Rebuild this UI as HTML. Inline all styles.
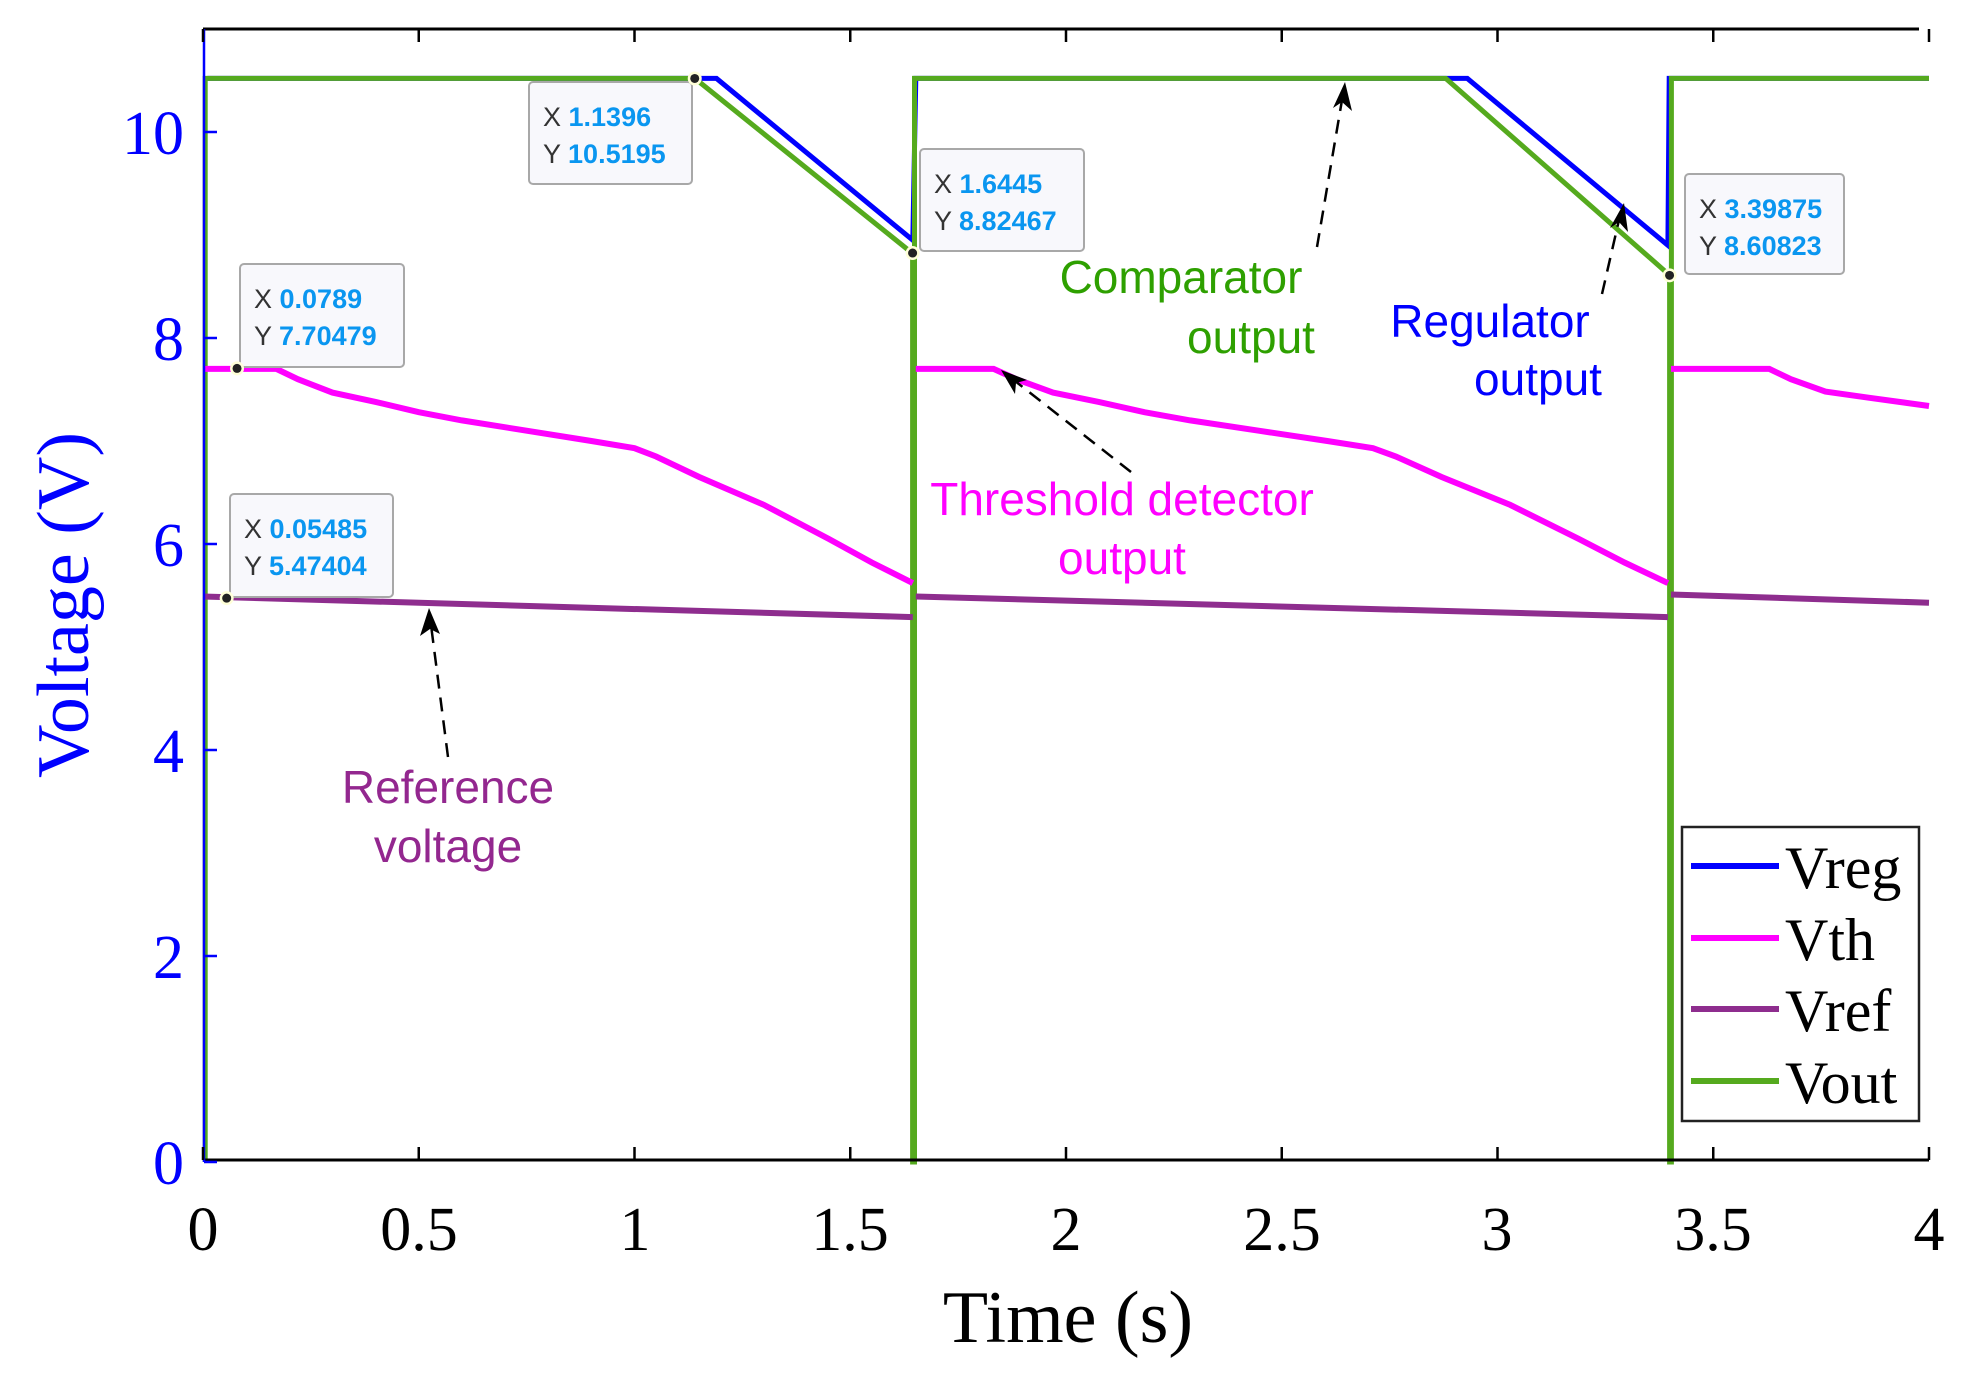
<!DOCTYPE html>
<html><head><meta charset="utf-8"><style>
html,body{margin:0;padding:0;background:#fff;}
svg{display:block;}
.tip{font-family:"Liberation Sans",Arial,sans-serif;font-size:27px;font-weight:bold;}
</style></head><body>
<svg id="s" width="1976" height="1382" viewBox="0 0 1976 1382" xmlns="http://www.w3.org/2000/svg">
<rect width="1976" height="1382" fill="#fff"/>
<g id="curves"></g>
<line x1="203" y1="29" x2="1919" y2="29" stroke="#000" stroke-width="3"/>
<line x1="203" y1="1160" x2="1929" y2="1160" stroke="#000" stroke-width="3"/>
<line x1="204" y1="29" x2="204" y2="1162" stroke="#0000ff" stroke-width="2.5"/>
<g id="ticks"></g>
<g font-family="Liberation Serif,serif" font-size="62" fill="#0000ff" text-anchor="end">
<text x="184" y="1184">0</text><text x="184" y="978">2</text><text x="184" y="772">4</text>
<text x="184" y="566">6</text><text x="184" y="360">8</text><text x="184" y="154">10</text>
</g>
<g font-family="Liberation Serif,serif" font-size="62" fill="#000" text-anchor="middle">
<text x="203" y="1250">0</text><text x="419" y="1250">0.5</text><text x="635" y="1250">1</text>
<text x="850" y="1250">1.5</text><text x="1066" y="1250">2</text><text x="1282" y="1250">2.5</text>
<text x="1497" y="1250">3</text><text x="1713" y="1250">3.5</text><text x="1929" y="1250">4</text>
</g>
<text x="1068" y="1342" font-family="Liberation Serif,serif" font-size="74" text-anchor="middle">Time (s)</text>
<text transform="translate(88,605) rotate(-90)" font-family="Liberation Serif,serif" font-size="74" fill="#0000ff" text-anchor="middle">Voltage (V)</text>
<rect x="1682" y="827" width="237" height="294" fill="#fff" stroke="#222" stroke-width="2.5"/>
<line x1="1691" y1="866" x2="1779" y2="866" stroke="#0000ff" stroke-width="6"/>
<line x1="1691" y1="938" x2="1779" y2="938" stroke="#ff00ff" stroke-width="6"/>
<line x1="1691" y1="1009" x2="1779" y2="1009" stroke="#8e2d8e" stroke-width="6"/>
<line x1="1691" y1="1081" x2="1779" y2="1081" stroke="#55aa1e" stroke-width="6"/>
<g font-family="Liberation Serif,serif" font-size="60" fill="#000">
<text x="1785" y="888">Vreg</text><text x="1785" y="960">Vth</text>
<text x="1785" y="1031">Vref</text><text x="1785" y="1103">Vout</text>
</g>
<g font-family="Liberation Sans,Arial,sans-serif" font-size="46" text-anchor="middle">
<text x="1181" y="293" fill="#2ea000">Comparator</text>
<text x="1251" y="353" fill="#2ea000">output</text>
<text x="1490" y="337" fill="#0000ff">Regulator</text>
<text x="1538" y="395" fill="#0000ff">output</text>
<text x="1122" y="515" fill="#ff00ff">Threshold detector</text>
<text x="1122" y="574" fill="#ff00ff">output</text>
<text x="448" y="803" fill="#93278f">Reference</text>
<text x="448" y="862" fill="#93278f">voltage</text>
</g>
<g stroke="#000" stroke-width="2.5" stroke-dasharray="14,9" fill="none">
<line x1="1317" y1="247" x2="1342" y2="100"/>
<line x1="1602" y1="294" x2="1619" y2="220"/>
<line x1="1131" y1="472" x2="1015" y2="381"/>
<line x1="448" y1="757" x2="431" y2="625"/>
</g>
<g fill="#000">
<polygon points="1345,82 1333,108 1342,102 1352,111"/>
<polygon points="1624,203 1610,228 1619,222 1628,232"/>
<polygon points="1001,370 1015,394 1016,383 1027,380"/>
<polygon points="429,608 420,636 430,629 440,634"/>
</g>
<g id="tips"></g>
</svg>
<script>
var X=function(t){return 203+431.5*t}, Y=function(v){return 1162-103*v};
function path(pts){return pts.map(function(p,i){return (i?'L':'M')+X(p[0]).toFixed(1)+','+Y(p[1]).toFixed(1)}).join(' ')}
var vth=[[0,7.7],[0.17,7.7],[0.22,7.6],[0.3,7.47],[0.4,7.38],[0.5,7.28],[0.6,7.2],[0.75,7.1],[0.9,7.0],[1.0,6.93],[1.05,6.85],[1.15,6.65],[1.3,6.38],[1.45,6.05],[1.55,5.82],[1.645,5.62]];
var th=[];
vth.forEach(function(p){th.push([p[0],p[1]])});
vth.forEach(function(p){th.push([1.652+p[0]*(1.743/1.645),p[1]])});
[[3.402,7.7],[3.63,7.7],[3.68,7.6],[3.76,7.48],[3.86,7.42],[4.0,7.34]].forEach(function(p){th.push(p)});
var ref=[[0,5.49],[1.645,5.29],[1.652,5.49],[3.395,5.29],[3.402,5.51],[4,5.43]];
var reg=[[0.01,10.52],[1.19,10.52],[1.645,8.95],[1.652,10.52],[2.93,10.52],[3.395,8.9],[3.398,10.52],[4,10.52]];
var out=[[0.005,0],[0.005,10.52],[1.14,10.52],[1.6445,8.82],[1.6445,0],[1.649,0],[1.649,10.52],[2.88,10.52],[3.39875,8.61],[3.39875,0],[3.403,0],[3.403,10.52],[4,10.52]];
var g='';
g+='<path d="'+path(reg)+'" stroke="#0000ff" stroke-width="5" fill="none"/>';
g+='<path d="'+path(out)+'" stroke="#55aa1e" stroke-width="5" fill="none"/>';
g+='<path d="'+path(ref.slice(0,2))+' '+path(ref.slice(2,4))+' '+path(ref.slice(4))+'" stroke="#8e2d8e" stroke-width="6" fill="none"/>';
var c1=th.slice(0,16),c2=th.slice(16,32),c3=th.slice(32);
g+='<path d="'+path(c1)+' '+path(c2)+' '+path(c3)+'" stroke="#ff00ff" stroke-width="6" fill="none"/>';
document.getElementById('curves').innerHTML=g;
var tk='';
for(var i=0;i<=8;i++){var x=X(i*0.5);tk+='<line x1="'+x+'" y1="1160" x2="'+x+'" y2="1147" stroke="#000" stroke-width="2.5"/><line x1="'+x+'" y1="29" x2="'+x+'" y2="42" stroke="#000" stroke-width="2.5"/>';}
for(var v=0;v<=10;v+=2){var y=Y(v);tk+='<line x1="204" y1="'+y+'" x2="217" y2="'+y+'" stroke="#0000ff" stroke-width="2.5"/>';}
document.getElementById('ticks').innerHTML=tk;
var tips=[[1.1396,10.5195,529,82,163,102],[0.0789,7.70479,240,264,164,103],[0.05485,5.47404,230,494,163,103],[1.6445,8.82467,920,149,164,102],[3.39875,8.60823,1685,174,159,100]];
var s='';
tips.forEach(function(d){var px=X(d[0]),py=Y(d[1]);
s+='<rect x="'+d[2]+'" y="'+d[3]+'" width="'+d[4]+'" height="'+d[5]+'" rx="4" fill="#f8f8fc" stroke="#a8a8a8" stroke-width="2"/>';
s+='<text class="tip" x="'+(d[2]+14)+'" y="'+(d[3]+44)+'"><tspan fill="#333" font-weight="normal">X </tspan><tspan fill="#0a96f0">'+d[0]+'</tspan></text>';
s+='<text class="tip" x="'+(d[2]+14)+'" y="'+(d[3]+81)+'"><tspan fill="#333" font-weight="normal">Y </tspan><tspan fill="#0a96f0">'+d[1]+'</tspan></text>';
s+='<circle cx="'+px+'" cy="'+py+'" r="7" fill="#ffffd8"/><circle cx="'+px+'" cy="'+py+'" r="4.5" fill="#222"/>';});
document.getElementById('tips').innerHTML=s;
</script>
</body></html>
